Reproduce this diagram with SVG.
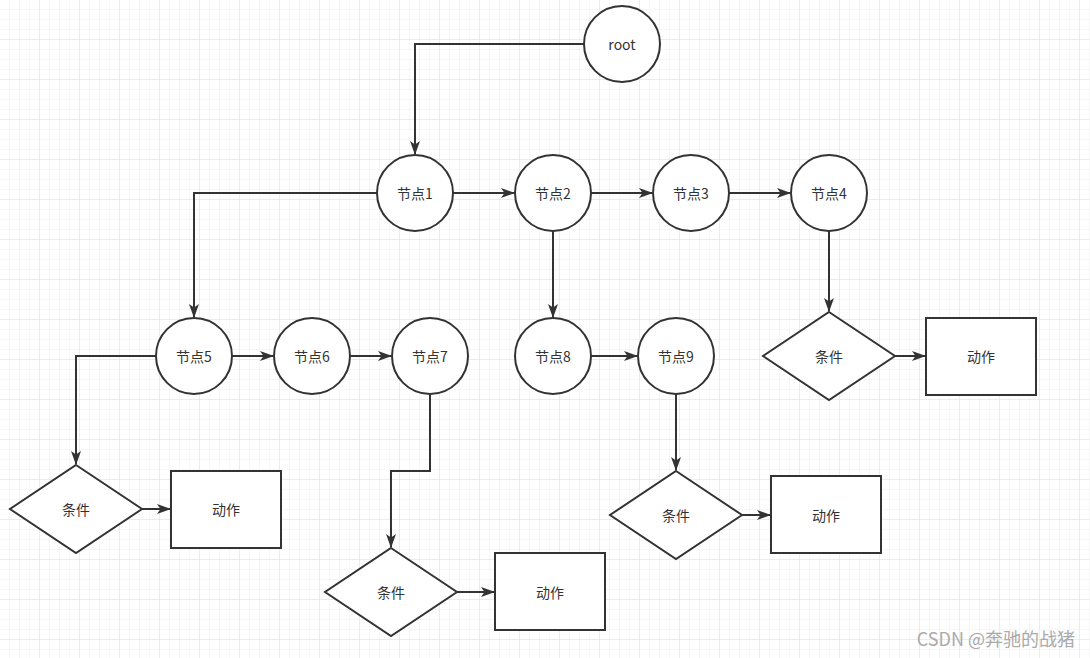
<svg xmlns="http://www.w3.org/2000/svg" width="1090" height="658" viewBox="0 0 1090 658">
<defs>
<pattern id="minor" width="10" height="10" patternUnits="userSpaceOnUse"><path d="M10 0V10H0" fill="none" stroke="#efefef" stroke-width="1"/></pattern>
<pattern id="major" width="40" height="40" patternUnits="userSpaceOnUse"><rect width="40" height="40" fill="url(#minor)"/><path d="M40 0V40H0" fill="none" stroke="#e2e2e2" stroke-width="1"/></pattern>
<marker id="a" markerWidth="14" markerHeight="12" refX="13" refY="6" orient="auto" markerUnits="userSpaceOnUse"><path d="M0 1L14 6L0 11L3.5 6Z" fill="#333"/></marker>
</defs>
<style>
.n{fill:#fff;stroke:#333;stroke-width:2}
.t{font-family:"Noto Sans CJK SC","Noto Sans",sans-serif;font-size:14px;fill:#333;text-anchor:middle;dominant-baseline:central}
.c{fill:none;stroke:#333;stroke-width:2;marker-end:url(#a)}
</style>
<rect width="1090" height="658" fill="#fff"/>
<rect width="1090" height="658" fill="url(#major)"/>
<g id="connectors">
<path class="c" d="M584 44H415V154"/>
<path class="c" d="M377 193H194V317"/>
<path class="c" d="M453 193H514"/>
<path class="c" d="M591 193H652"/>
<path class="c" d="M729 193H790"/>
<path class="c" d="M553 231V317"/>
<path class="c" d="M829 231V311"/>
<path class="c" d="M232 356H273"/>
<path class="c" d="M350 356H391"/>
<path class="c" d="M156 356H76V464"/>
<path class="c" d="M430 394V471H391V547"/>
<path class="c" d="M591 356H637"/>
<path class="c" d="M676 394V470"/>
<path class="c" d="M895 356H925"/>
<path class="c" d="M142 509H170"/>
<path class="c" d="M457 592H494"/>
<path class="c" d="M742 515H770"/>
</g>
<g id="root"><circle class="n" cx="622" cy="44" r="38"/><text class="t" x="622" y="44">root</text></g>
<g id="n1"><circle class="n" cx="415" cy="193" r="38"/><text class="t" x="415" y="193">节点1</text></g>
<g id="n2"><circle class="n" cx="553" cy="193" r="38"/><text class="t" x="553" y="193">节点2</text></g>
<g id="n3"><circle class="n" cx="691" cy="193" r="38"/><text class="t" x="691" y="193">节点3</text></g>
<g id="n4"><circle class="n" cx="829" cy="193" r="38"/><text class="t" x="829" y="193">节点4</text></g>
<g id="n5"><circle class="n" cx="194" cy="356" r="38"/><text class="t" x="194" y="356">节点5</text></g>
<g id="n6"><circle class="n" cx="312" cy="356" r="38"/><text class="t" x="312" y="356">节点6</text></g>
<g id="n7"><circle class="n" cx="430" cy="356" r="38"/><text class="t" x="430" y="356">节点7</text></g>
<g id="n8"><circle class="n" cx="553" cy="356" r="38"/><text class="t" x="553" y="356">节点8</text></g>
<g id="n9"><circle class="n" cx="676" cy="356" r="38"/><text class="t" x="676" y="356">节点9</text></g>
<g id="d4"><path class="n" d="M829 312L895 356L829 400L763 356Z"/><text class="t" x="829" y="356">条件</text></g>
<g id="r4"><rect class="n" x="926" y="318" width="110" height="77"/><text class="t" x="981" y="356">动作</text></g>
<g id="d5"><path class="n" d="M76 465L142 509L76 553L10 509Z"/><text class="t" x="76" y="509">条件</text></g>
<g id="r5"><rect class="n" x="171" y="471" width="110" height="77"/><text class="t" x="226" y="509">动作</text></g>
<g id="d7"><path class="n" d="M391 548L457 592L391 636L325 592Z"/><text class="t" x="391" y="592">条件</text></g>
<g id="r7"><rect class="n" x="495" y="553" width="110" height="77"/><text class="t" x="550" y="592">动作</text></g>
<g id="d9"><path class="n" d="M676 471L742 515L676 559L610 515Z"/><text class="t" x="676" y="515">条件</text></g>
<g id="r9"><rect class="n" x="771" y="476" width="110" height="77"/><text class="t" x="826" y="515">动作</text></g>
<text x="1075" y="646" font-family="'Noto Sans CJK SC',sans-serif" font-size="18" fill="#aaa" text-anchor="end">CSDN @奔驰的战猪</text>
</svg>
